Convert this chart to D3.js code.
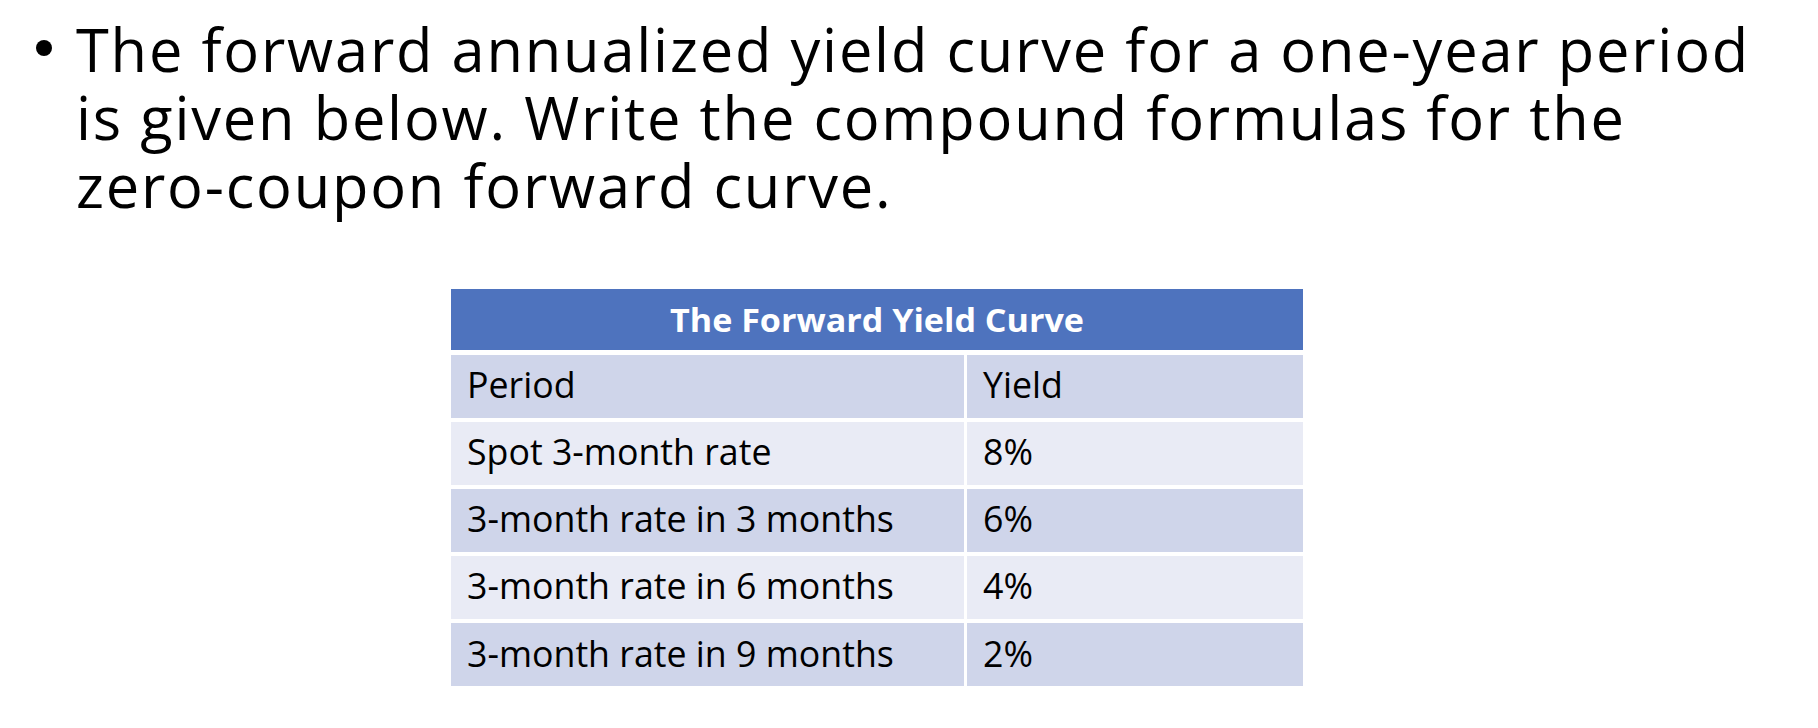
<!DOCTYPE html>
<html><head><meta charset="utf-8">
<script src="https://cdn.jsdelivr.net/npm/d3@7"></script>
<style>body{margin:0;background:#fff}</style>
</head><body>
<svg id="c" width="1818" height="728"></svg>
<script>
var bulletLines = ["The forward annualized yield curve for a one-year period",
  "is given below. Write the compound formulas for the",
  "zero-coupon forward curve."]
var tableTitle = "The Forward Yield Curve"
var headers = ["Period", "Yield"]
var periods = ["Spot 3-month rate", "3-month rate in 3 months", "3-month rate in 6 months", "3-month rate in 9 months"]
var yields = [8, 6, 4, 2]

var svg = d3.select("#c")
var font = "'Open Sans', 'Noto Sans', sans-serif"

// bullet text, sized so the first line spans like the slide
svg.append("circle").attr("cx", 44).attr("cy", 48).attr("r", 8).attr("fill", "#000")
var lines = svg.selectAll("text.b").data(bulletLines).enter().append("text")
  .attr("class", "b").attr("x", 76).attr("y", function(d, i){ return 72 + i*68 })
  .style("font-family", font).style("font-size", "60px").text(function(d){ return d })
var w0 = lines.node().getComputedTextLength()
var fs = 60*1674/w0*0.94
lines.style("font-size", fs + "px")
var w0b = lines.node().getComputedTextLength()
lines.style("letter-spacing", ((1674 - w0b) / bulletLines[0].length) + "px")

// table
var x0 = 451, x1 = 1303, xd = 965
var rows = [headers].concat(periods.map(function(p, i){ return [p, yields[i] + "%"] }))
var y = d3.scaleBand().domain(d3.range(rows.length)).range([355, 686]).paddingInner(0.06)

svg.append("rect").attr("x", x0).attr("y", 289).attr("width", x1-x0).attr("height", 61).attr("fill", "#4E73BE")
svg.append("text").attr("x", (x0+x1)/2).attr("y", 332).attr("text-anchor", "middle")
  .style("font-family", font).style("font-weight", "bold").style("font-size", "33px")
  .attr("fill", "#fff").attr("textLength", 414).attr("lengthAdjust", "spacingAndGlyphs").text(tableTitle)

var g = svg.selectAll("g.row").data(rows).enter().append("g").attr("class", "row")
  .attr("transform", function(d, i){ return "translate(0," + y(i) + ")" })
g.append("rect").attr("x", x0).attr("width", xd-x0-1).attr("height", y.bandwidth())
  .attr("fill", function(d, i){ return i % 2 ? "#E9EBF5" : "#CFD5EA" })
g.append("rect").attr("x", xd+2).attr("width", x1-xd-2).attr("height", y.bandwidth())
  .attr("fill", function(d, i){ return i % 2 ? "#E9EBF5" : "#CFD5EA" })
var t1 = g.append("text").attr("x", 467).attr("y", y.bandwidth()/2 + 12)
  .style("font-family", font).style("font-size", "35px").text(function(d){ return d[0] })
g.append("text").attr("x", 983).attr("y", y.bandwidth()/2 + 12)
  .style("font-family", font).style("font-size", "35px").text(function(d){ return d[1] })
var w1 = t1.nodes()[2].getComputedTextLength()
g.selectAll("text").style("font-size", (35*427/w1) + "px")
</script>
</body></html>
